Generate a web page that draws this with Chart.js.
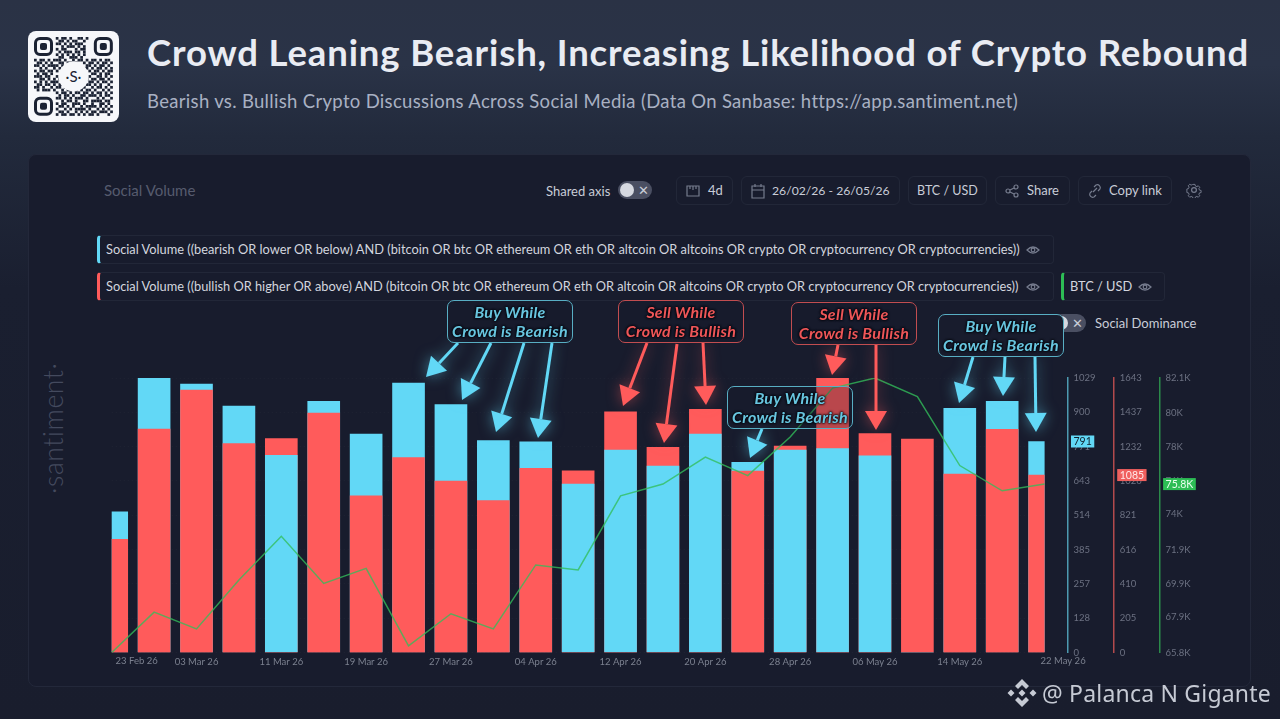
<!DOCTYPE html>
<html>
<head>
<meta charset="utf-8">
<title>Crowd Leaning Bearish</title>
<script src="https://cdn.jsdelivr.net/npm/chart.js@4"></script>
<style>
html,body{margin:0;padding:0;}
body{width:1280px;height:719px;overflow:hidden;position:relative;font-family:Lato,sans-serif;
  background:linear-gradient(180deg,#2a3245 0%,#2a3347 9%,#222a3c 19%,#1a1f30 40%,#191d2d 100%);}
.abs{position:absolute;}
#title{left:147px;top:30px;font-size:36.5px;font-weight:700;color:#e9ecf3;white-space:nowrap;letter-spacing:.87px;}
#subtitle{left:147px;top:90px;font-size:18.5px;color:#a9b1c3;white-space:nowrap;letter-spacing:.32px;}
#qr{left:28px;top:31px;width:91px;height:91px;}
#panel{left:28px;top:154px;width:1223px;height:533px;background:#181c2d;border:1px solid #23283a;border-radius:8px;box-sizing:border-box;}
#sv{left:104px;top:181px;font-size:15px;color:#565b6e;}
.lbl{font-size:13px;color:#c9cdd8;white-space:nowrap;}
.btn{position:absolute;top:176px;height:29px;border:1px solid #222738;border-radius:6px;box-sizing:border-box;color:#c9cdd8;font-size:13px;line-height:27px;white-space:nowrap;}
.btn span{position:absolute;top:0;}
.btn svg,.row svg{position:absolute;fill:none;stroke:#767c8e;stroke-width:1.2;}
.row{position:absolute;height:29px;border:1px solid #222738;border-left:3px solid;border-radius:4px;box-sizing:border-box;font-size:12.8px;line-height:27px;color:#d3d6df;white-space:nowrap;padding-left:6px;}
.toggle{position:absolute;height:18px;background:#4a4f62;border-radius:9px;}
.toggle i{position:absolute;left:2px;top:2px;width:14px;height:14px;border-radius:50%;background:#d6d9e0;}
.toggle b{position:absolute;left:20px;top:0;font-size:13px;font-weight:400;line-height:18px;color:#c9cdd8;}
#santiment{left:-7px;top:418px;width:120px;text-align:center;font-size:26.5px;font-weight:300;color:#444a5e;transform:rotate(-90deg);letter-spacing:.6px;}
#chart{position:absolute;left:0;top:0;}
#arrows{position:absolute;left:0;top:0;}
.note{position:absolute;width:126px;height:43px;box-sizing:border-box;border:1.4px solid;border-radius:7px;background:rgba(22,26,42,.3);text-align:center;font-style:italic;font-weight:700;font-size:16px;letter-spacing:.25px;line-height:19px;padding-top:1px;white-space:nowrap;text-shadow:0 0 2px #05070d,0 0 2px #05070d,0 0 3px #05070d;}
.note.buy{border-color:#58aec3;color:#68c6e0;}
.note.sell{border-color:#c24d50;color:#ee5658;}
#mark{left:1042px;top:677px;font-family:"Noto Sans",sans-serif;font-size:23px;color:#c6cad4;white-space:nowrap;letter-spacing:.2px;}
</style>
</head>
<body>
<svg id="qr" class="abs" viewBox="0 0 91 91"></svg>
<div id="title" class="abs">Crowd Leaning Bearish, Increasing Likelihood of Crypto Rebound</div>
<div id="subtitle" class="abs">Bearish vs. Bullish Crypto Discussions Across Social Media (Data On Sanbase: https://app.santiment.net)</div>

<div id="panel" class="abs"></div>
<div id="sv" class="abs">Social Volume</div>
<div class="abs lbl" style="left:546px;top:183px">Shared axis</div>
<div class="toggle" style="left:618px;top:181px;width:34px"><i></i><b>✕</b></div>

<div class="btn" style="left:676px;width:57px">
  <svg style="left:9px;top:7px" width="14" height="14"><path d="M1 2h12v10H1zM4 2v3M7 2v4M10 2v3"/></svg><span style="left:31px">4d</span></div>
<div class="btn" style="left:741px;width:159px;font-size:12.2px">
  <svg style="left:8px;top:6px" width="16" height="16"><path d="M2 3h12v12H2zM2 7h12M5 1v3M11 1v3"/></svg><span style="left:30px">26/02/26 - 26/05/26</span></div>
<div class="btn" style="left:908px;width:79px;font-size:12.5px"><span style="left:8px">BTC / USD</span></div>
<div class="btn" style="left:995px;width:75px">
  <svg style="left:9px;top:7px" width="14" height="14"><circle cx="3" cy="7" r="2"/><circle cx="11" cy="3" r="2"/><circle cx="11" cy="11" r="2"/><path d="M5 6l4-2M5 8l4 2"/></svg><span style="left:31px">Share</span></div>
<div class="btn" style="left:1078px;width:94px">
  <svg style="left:8px;top:6px" width="16" height="16"><path d="M6 9l4-4M7 4l2-2a3 3 0 0 1 4 4l-2 2M9 12l-2 2a3 3 0 0 1-4-4l2-2"/></svg><span style="left:30px">Copy link</span></div>
<svg class="abs" style="left:1186px;top:182px;fill:none;stroke:#767c8e;stroke-width:1.2" width="16" height="16"><circle cx="8" cy="8" r="2.4"/><path d="M6.7 1h2.6l.4 2 1.9.8 1.7-1.1 1.9 1.9-1.1 1.7.8 1.9 2 .4v2.6l-2 .4-.8 1.9 1.1 1.7-1.9 1.9-1.7-1.1-1.9.8-.4 2H6.7l-.4-2-1.9-.8-1.7 1.1-1.9-1.9 1.1-1.7-.8-1.9-2-.4V6.700l2-.4.8-1.9-1.1-1.700 1.900-1.900 1.700 1.100 1.900-.8z" transform="translate(1.6 1.600) scale(.8)"/></svg>

<div class="row" style="left:97px;top:235px;width:957px;border-left-color:#62d8f6">Social Volume ((bearish OR lower OR below) AND (bitcoin OR btc OR ethereum OR eth OR altcoin OR altcoins OR crypto OR cryptocurrency OR cryptocurrencies))
  <svg style="left:926px;top:7px" width="14" height="14"><path d="M1 7q6-6 12 0q-6 6-12 0z"/><circle cx="7" cy="7" r="1.800"/></svg></div>
<div class="row" style="left:97px;top:272px;width:957px;border-left-color:#ff5b5b">Social Volume ((bullish OR higher OR above) AND (bitcoin OR btc OR ethereum OR eth OR altcoin OR altcoins OR crypto OR cryptocurrency OR cryptocurrencies))
  <svg style="left:926px;top:7px" width="14" height="14"><path d="M1 7q6-6 12 0q-6 6-12 0z"/><circle cx="7" cy="7" r="1.800"/></svg></div>
<div class="row" style="left:1061px;top:272px;width:104px;border-left-color:#2dbd55">BTC / USD
  <svg style="left:74px;top:7px" width="14" height="14"><path d="M1 7q6-6 12 0q-6 6-12 0z"/><circle cx="7" cy="7" r="1.800"/></svg></div>

<div class="toggle" style="left:1052px;top:314px;width:34px"><i></i><b>✕</b></div>
<div class="abs lbl" style="left:1095px;top:315px">Social Dominance</div>
<div id="santiment" class="abs">·santiment·</div>

<canvas id="chart" width="1280" height="719"></canvas>
<svg id="arrows" width="1280" height="719"></svg>

<div class="note buy" style="left:447px;top:300px">Buy While<br>Crowd is Bearish</div>
<div class="note sell" style="left:618px;top:300px">Sell While<br>Crowd is Bullish</div>
<div class="note sell" style="left:791px;top:302px">Sell While<br>Crowd is Bullish</div>
<div class="note buy" style="left:727px;top:386px">Buy While<br>Crowd is Bearish</div>
<div class="note buy" style="left:938px;top:314px;background:#181c2d">Buy While<br>Crowd is Bearish</div>

<svg class="abs" style="left:1007px;top:678px" width="30" height="30" viewBox="0 0 30 30" fill="#c6cad4">
  <path d="M15 1l7 7-3 3-4-4-4 4-3-3zM15 29l-7-7 3-3 4 4 4-4 3 3zM4 11.500l3.500 3.500L4 18.500.5 15zM26 11.500l3.500 3.500-3.500 3.500-3.500-3.500zM15 11.500l3.500 3.500-3.500 3.500-3.500-3.500z"/>
</svg>
<div id="mark" class="abs">@ Palanca N Gigante</div>

<script>
var dates = ["23 Feb 26","27 Feb 26","03 Mar 26","07 Mar 26","11 Mar 26","15 Mar 26","19 Mar 26","23 Mar 26",
  "27 Mar 26","31 Mar 26","04 Apr 26","08 Apr 26","12 Apr 26","16 Apr 26","20 Apr 26","24 Apr 26",
  "28 Apr 26","02 May 26","06 May 26","10 May 26","14 May 26","18 May 26","22 May 26"];
var bearish = [527,1029,1006,924,739,942,819,1010,929,794,790,631,759,699,819,713,759,764,737,0,915,942,791];
var bullish = [678,1338,1571,1250,1280,1433,937,1166,1026,909,1103,1088,1441,1228,1456,1086,1236,1643,1310,1278,1068,1336,1062];
var btcUsd = [65.8,68.2,67.2,70.1,72.7,69.9,70.8,66.2,68.1,67.2,71,70.7,75.1,75.8,77.4,76.3,78.6,81.5,82.1,81,76.9,75.4,75.8];

var bearishTicks = [0,128,257,385,514,643,771,900,1029];
var bullishTicks = [0,205,410,616,821,1026,1232,1437,1643];
var btcTicks = [65.8,67.9,69.9,71.9,74,76,78,80,82.1];

var CYAN = "#62d8f6", RED = "#ff5b5b", GREEN = "#2dbd55";
var tickColor = "#6c7182";

// the taller bar of each date goes behind, the shorter one in front
function layer(values, maxV, otherValues, otherMax, front){
  return values.map(function(v, i){
    var isShorter = v / maxV < otherValues[i] / otherMax;
    return isShorter === front ? v : null;
  });
}
function barSet(data, color, axis, order){
  return {type:"bar", data:data, backgroundColor:color, yAxisID:axis, order:order,
    grouped:false, barThickness:32, borderWidth:0};
}
function rightAxis(ticks, color, width, weight, fmt, grid){
  return {
    position:"right", weight:weight, min:ticks[0], max:ticks[ticks.length-1],
    grid: grid ? {display:true, drawTicks:false, color:"rgba(255,255,255,.035)"} : {display:false, drawTicks:false},
    border:{display:true, color:color, width:1.5, dash: grid ? [1,3] : []},
    ticks:{color:tickColor, padding:6, autoSkip:false, font:{size:9.5}, callback:fmt},
    afterBuildTicks:function(s){ s.ticks = ticks.map(function(v){ return {value:v}; }); },
    afterFit:function(s){ s.width = width; }
  };
}

// first and last date labels sit off their tick, and the last values get a badge
var extras = {
  id:"extras",
  afterDraw:function(chart){
    var c = chart.ctx, x = chart.scales.x;
    c.save();
    c.font = "9.5px Lato";
    c.fillStyle = "#7b808f";
    c.textAlign = "center";
    c.textBaseline = "middle";
    c.fillText(dates[0], x.getPixelForValue(0) + 25, 661);
    c.fillText(dates[22], x.getPixelForValue(22) + 18.500, 661);
    badge(c, chart.scales.yBear, bearish[22], "791", CYAN, "#10202c");
    badge(c, chart.scales.yBull, bullish[22], "1085", "#f0605e", "#ffe8e8");
    badge(c, chart.scales.yBtc, btcUsd[22], "75.8K", GREEN, "#eafff0");
    c.restore();
  }
};
function badge(c, scale, value, text, bg, fg){
  var y = scale.getPixelForValue(value);
  c.font = "10.5px Lato";
  var w = c.measureText(text).width + 5;
  c.fillStyle = bg;
  c.fillRect(scale.left + 3.5, y - 6, w, 12);
  c.fillStyle = fg;
  c.textAlign = "left";
  c.fillText(text, scale.left + 6, y + .5);
}

Chart.defaults.font.family = "Lato";
new Chart("chart", {
  data:{
    labels:dates,
    datasets:[
      {type:"line", data:btcUsd, yAxisID:"yBtc", order:0, borderColor:"rgba(50,190,90,.78)", borderWidth:1.5,
        pointRadius:0, tension:0, fill:false},
      barSet(layer(bearish,1029,bullish,1643,true), CYAN, "yBear", 1),
      barSet(layer(bullish,1643,bearish,1029,true), RED, "yBull", 1),
      barSet(layer(bearish,1029,bullish,1643,false), CYAN, "yBear", 2),
      barSet(layer(bullish,1643,bearish,1029,false), RED, "yBull", 2)
    ]
  },
  options:{
    responsive:false, animation:false, events:[],
    layout:{padding:{left:111.7, top:378, right:80.4, bottom:46.5}},
    plugins:{legend:{display:false}, tooltip:{enabled:false}, title:{display:false}},
    scales:{
      x:{
        type:"category", offset:false,
        grid:{display:false, offset:false, drawTicks:false},
        border:{display:false},
        ticks:{color:"#7b808f", padding:4, autoSkip:false, maxRotation:0, font:{size:9.5},
          callback:function(v, i){ return (i % 2 === 0 && i > 0 && i < 22) ? dates[i] : ""; }},
        afterFit:function(s){ s.height = 20; }
      },
      yGap:{position:"right", weight:0, display:true, grid:{display:false, drawTicks:false}, border:{display:false},
        ticks:{display:false}, afterFit:function(s){ s.width = 22.9; }},
      yBear:rightAxis(bearishTicks, "#4d9ab0", 46.2, 1, function(v){ return v; }, true),
      yBull:rightAxis(bullishTicks, "#b24a4d", 45.9, 2, function(v){ return v; }, false),
      yBtc:rightAxis(btcTicks, "#2b8a4a", 40, 3, function(v){ return v + "K"; }, false)
    }
  },
  plugins:[extras]
});

// callout arrows: [from x, from y, tip x, tip y]
var buyArrows = [[458,343,426,377],[491,343,462,400],[524,343,496,432],[552,343,538,438],
  [762,429,750,458],[973,357,959,403],[1005,357,1003,396],[1035,357,1036,432]];
var sellArrows = [[647,343,623,406],[677,344,664,443],[703,343,706,405],[838,345,832,375],[876,345,876,430]];

function arrowSvg(a, color){
  var dx = a[2]-a[0], dy = a[3]-a[1], len = Math.sqrt(dx*dx+dy*dy), ux = dx/len, uy = dy/len;
  var bx = a[2]-ux*19, by = a[3]-uy*19, hw = 11;
  return '<line x1="'+a[0]+'" y1="'+a[1]+'" x2="'+bx+'" y2="'+by+'" stroke="'+color+'" stroke-width="3"/>'+
    '<polygon fill="'+color+'" points="'+a[2]+','+a[3]+' '+(bx-uy*hw)+','+(by+ux*hw)+' '+(bx+uy*hw)+','+(by-ux*hw)+'"/>';
}
document.getElementById("arrows").innerHTML =
  '<g style="filter:drop-shadow(0 0 7px rgba(98,216,246,.55))">'+buyArrows.map(function(a){ return arrowSvg(a, CYAN); }).join("")+'</g>'+
  '<g style="filter:drop-shadow(0 0 7px rgba(255,91,91,.5))">'+sellArrows.map(function(a){ return arrowSvg(a, RED); }).join("")+'</g>';

// QR badge
var qrRows = [
"00000000101101001101000000000",
"00000000011010110010000000000",
"00000000110101011100000000000",
"00000000001011101010000000000",
"00000000101100010110000000000",
"00000000010111011010000000000",
"00000000101010101010000000000",
"00000000011001110100000000000",
"10110101110100101101011010110",
"01101010011011010010110101101",
"11010111101000001001101011010",
"00101001010000000011010110101",
"10110110100000000000101101011",
"01011010000000000000011010110",
"11101100100000000000100110101",
"00110101010000000001011011010",
"10101011101000000010110101101",
"01101101011010000101101010010",
"11010010110101101110010110101",
"01011101001011010101101001010",
"00000000101101011011010110101",
"00000000010110100110111010110",
"00000000110101011101000101001",
"00000000001011010011011110110",
"00000000101100111010010011010",
"00000000011010100101111010101",
"00000000100101011110100101010",
"00000000011010010101011011101",
"00000000101101101010110100010"
];
var qr = '<rect width="91" height="91" rx="8" fill="#f6f7fa"/>', m = 2.72, o = 6;
qrRows.forEach(function(row, r){
  row.split("").forEach(function(ch, col){
    if(ch === "1") qr += '<rect x="'+(o+col*m)+'" y="'+(o+r*m)+'" width="'+m+'" height="'+m+'" fill="#1b2233"/>';
  });
});
[[o,o],[o+22*m,o],[o,o+22*m]].forEach(function(p){
  qr += '<rect x="'+(p[0]+1.5)+'" y="'+(p[1]+1.5)+'" width="16" height="16" rx="4.500" fill="none" stroke="#1b2233" stroke-width="3"/>'+
    '<rect x="'+(p[0]+6)+'" y="'+(p[1]+6)+'" width="7" height="7" rx="2" fill="#1b2233"/>';
});
qr += '<circle cx="45.500" cy="45.500" r="15" fill="#f6f7fa"/><text x="45.500" y="50.500" text-anchor="middle" font-family="Lato" font-size="15" fill="#1b2233">·S·</text>';
document.getElementById("qr").innerHTML = qr;
</script>
</body>
</html>
